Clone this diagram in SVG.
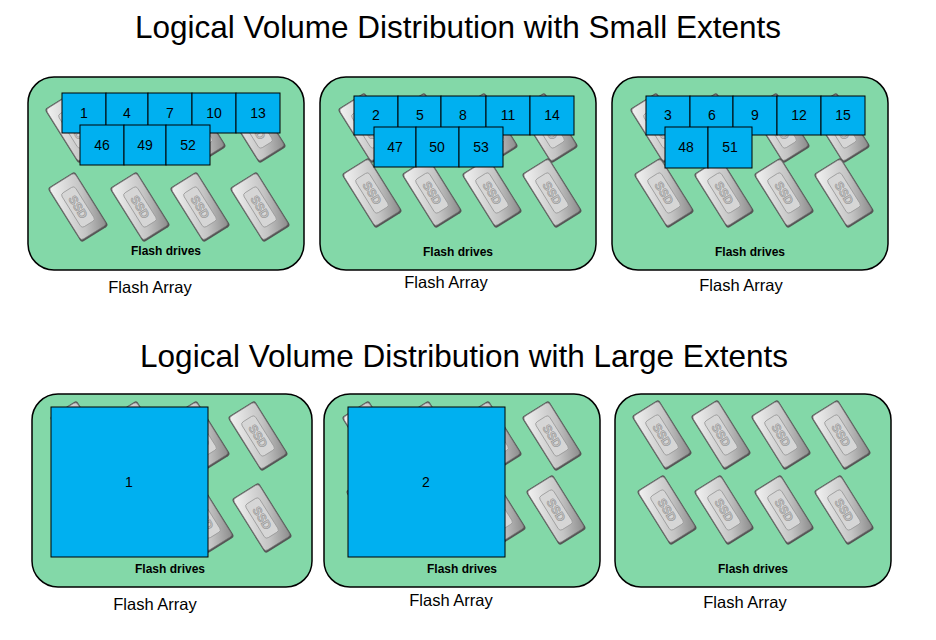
<svg xmlns="http://www.w3.org/2000/svg" width="936" height="640" viewBox="0 0 936 640">
<style>
.panel{fill:#83d8a8;stroke:#000;stroke-width:1.5}
.blk{fill:#00b0f0;stroke:#000;stroke-width:1}
.t{font-family:"Liberation Sans",Arial,sans-serif;fill:#000}
.title{font-size:31.5px;text-anchor:middle}
.num{font-size:14px;text-anchor:middle}
.fa{font-size:16.5px;text-anchor:middle}
.fd{font-size:12px;font-weight:bold;text-anchor:middle}
.ssdt{font-family:"Liberation Sans",Arial,sans-serif;font-size:12px;font-weight:bold;fill:#c8c8c8;stroke:#8a8a8a;stroke-width:0.5;text-anchor:middle}
</style>
<defs>
<linearGradient id="g" x1="0" y1="0" x2="1" y2="1">
<stop offset="0" stop-color="#f2f2f2"/><stop offset="0.6" stop-color="#c4c4c4"/><stop offset="1" stop-color="#8c8c8c"/>
</linearGradient>
<g id="ssd">
<g transform="rotate(-32)">
<rect x="-16" y="-32" width="32" height="64" rx="3" fill="#555"/>
<rect x="-15" y="-31" width="30" height="61" rx="3" fill="url(#g)" stroke="#777" stroke-width="0.6"/>
<rect x="-8" y="-20" width="16" height="40" rx="3" fill="#d6d6d6" stroke="#999" stroke-width="0.8"/>
<text class="ssdt" transform="rotate(90)" x="0" y="4">SSD</text>
</g>
</g>
</defs>
<rect width="936" height="640" fill="#fff"/>
<text class="t title" x="458" y="38">Logical Volume Distribution with Small Extents</text>
<text class="t title" x="464" y="367">Logical Volume Distribution with Large Extents</text>

<g id="array-small-1">
<rect class="panel" x="28" y="77" width="276" height="193" rx="26"/>
<use href="#ssd" x="75" y="128"/><use href="#ssd" x="136" y="128"/><use href="#ssd" x="196" y="128"/><use href="#ssd" x="256" y="128"/>
<use href="#ssd" x="78" y="207"/><use href="#ssd" x="140" y="207"/><use href="#ssd" x="200" y="207"/><use href="#ssd" x="260" y="207"/>
<rect class="blk" x="62" y="93" width="44" height="40"/><rect class="blk" x="106" y="93" width="42" height="40"/><rect class="blk" x="148" y="93" width="44" height="40"/><rect class="blk" x="192" y="93" width="44" height="40"/><rect class="blk" x="236" y="93" width="44" height="40"/>
<text class="t num" x="84" y="118">1</text><text class="t num" x="127" y="118">4</text><text class="t num" x="170" y="118">7</text><text class="t num" x="214" y="118">10</text><text class="t num" x="258" y="118">13</text>
<rect class="blk" x="80" y="125" width="44" height="40"/><rect class="blk" x="124" y="125" width="42" height="40"/><rect class="blk" x="166" y="125" width="44" height="40"/>
<text class="t num" x="102" y="150">46</text><text class="t num" x="145" y="150">49</text><text class="t num" x="188" y="150">52</text>
<text class="t fd" x="166" y="255">Flash drives</text>
<text class="t fa" x="150" y="293">Flash Array</text>
</g>

<g id="array-small-2">
<rect class="panel" x="320" y="77" width="276" height="193" rx="26"/>
<use href="#ssd" x="368" y="128"/><use href="#ssd" x="428" y="128"/><use href="#ssd" x="488" y="128"/><use href="#ssd" x="548" y="128"/>
<use href="#ssd" x="372" y="193"/><use href="#ssd" x="432" y="193"/><use href="#ssd" x="492" y="193"/><use href="#ssd" x="552" y="193"/>
<rect class="blk" x="354" y="96" width="44" height="39"/><rect class="blk" x="398" y="96" width="43" height="39"/><rect class="blk" x="441" y="96" width="45" height="39"/><rect class="blk" x="486" y="96" width="44" height="39"/><rect class="blk" x="530" y="96" width="44" height="39"/>
<text class="t num" x="376" y="120">2</text><text class="t num" x="420" y="120">5</text><text class="t num" x="463" y="120">8</text><text class="t num" x="508" y="120">11</text><text class="t num" x="552" y="120">14</text>
<rect class="blk" x="374" y="127" width="42" height="40"/><rect class="blk" x="416" y="127" width="43" height="40"/><rect class="blk" x="459" y="127" width="44" height="40"/>
<text class="t num" x="395" y="152">47</text><text class="t num" x="437" y="152">50</text><text class="t num" x="481" y="152">53</text>
<text class="t fd" x="458" y="256">Flash drives</text>
<text class="t fa" x="446" y="288">Flash Array</text>
</g>

<g id="array-small-3">
<rect class="panel" x="612" y="77" width="276" height="193" rx="26"/>
<use href="#ssd" x="660" y="128"/><use href="#ssd" x="720" y="128"/><use href="#ssd" x="780" y="128"/><use href="#ssd" x="840" y="128"/>
<use href="#ssd" x="664" y="193"/><use href="#ssd" x="724" y="193"/><use href="#ssd" x="784" y="193"/><use href="#ssd" x="844" y="193"/>
<rect class="blk" x="646" y="96" width="44" height="39"/><rect class="blk" x="690" y="96" width="43" height="39"/><rect class="blk" x="733" y="96" width="44" height="39"/><rect class="blk" x="777" y="96" width="44" height="39"/><rect class="blk" x="821" y="96" width="44" height="39"/>
<text class="t num" x="668" y="120">3</text><text class="t num" x="712" y="120">6</text><text class="t num" x="755" y="120">9</text><text class="t num" x="799" y="120">12</text><text class="t num" x="843" y="120">15</text>
<rect class="blk" x="665" y="127" width="43" height="41"/><rect class="blk" x="708" y="127" width="44" height="41"/>
<text class="t num" x="686" y="152">48</text><text class="t num" x="730" y="152">51</text>
<text class="t fd" x="750" y="256">Flash drives</text>
<text class="t fa" x="741" y="291">Flash Array</text>
</g>

<g id="array-large-1">
<rect class="panel" x="32" y="394" width="280" height="193" rx="26"/>
<use href="#ssd" x="80" y="436"/><use href="#ssd" x="140" y="436"/><use href="#ssd" x="200" y="436"/><use href="#ssd" x="258" y="436"/>
<use href="#ssd" x="84" y="518"/><use href="#ssd" x="144" y="518"/><use href="#ssd" x="204" y="518"/><use href="#ssd" x="262" y="518"/>
<rect class="blk" x="51" y="407" width="157" height="150"/>
<text class="t num" x="129" y="487">1</text>
<text class="t fd" x="170" y="573">Flash drives</text>
<text class="t fa" x="155" y="610">Flash Array</text>
</g>

<g id="array-large-2">
<rect class="panel" x="324" y="394" width="276" height="193" rx="26"/>
<use href="#ssd" x="372" y="436"/><use href="#ssd" x="432" y="436"/><use href="#ssd" x="492" y="436"/><use href="#ssd" x="552" y="436"/>
<use href="#ssd" x="376" y="510"/><use href="#ssd" x="436" y="510"/><use href="#ssd" x="496" y="510"/><use href="#ssd" x="556" y="510"/>
<rect class="blk" x="348" y="407" width="157" height="150"/>
<text class="t num" x="426" y="487">2</text>
<text class="t fd" x="462" y="573">Flash drives</text>
<text class="t fa" x="451" y="606">Flash Array</text>
</g>

<g id="array-large-3">
<rect class="panel" x="615" y="394" width="276" height="193" rx="26"/>
<use href="#ssd" x="662" y="435"/><use href="#ssd" x="721" y="435"/><use href="#ssd" x="781" y="435"/><use href="#ssd" x="841" y="435"/>
<use href="#ssd" x="667" y="510"/><use href="#ssd" x="724" y="510"/><use href="#ssd" x="784" y="510"/><use href="#ssd" x="844" y="510"/>
<text class="t fd" x="753" y="573">Flash drives</text>
<text class="t fa" x="745" y="608">Flash Array</text>
</g>
<g id="connectors"/>
</svg>
